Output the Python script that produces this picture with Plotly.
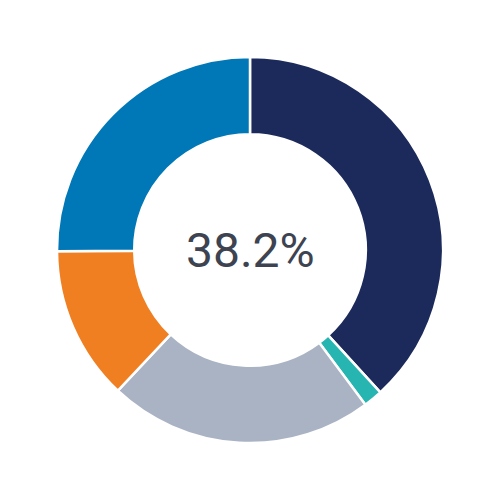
import plotly.graph_objects as go

labels = ["A", "B", "C", "D", "E"]
values = [38.2, 1.6, 22.2, 12.9, 25.1]
colors = ["#1b2a5a", "#27b5b1", "#a9b3c3", "#f07f22", "#0077b6"]
center_text = "38.2%"

fig = go.Figure(go.Pie(
    labels=labels,
    values=values,
    hole=0.6,
    sort=False,
    direction="clockwise",
    rotation=0,
    marker=dict(colors=colors, line=dict(color="white", width=2.5)),
    textinfo="none",
    hoverinfo="label+percent",
))

# page body has an 8px margin, so shrink the figure to keep the ring centred
fig.update_layout(
    width=484, height=484,
    margin=dict(l=49, r=49, t=49, b=49),
    showlegend=False,
    paper_bgcolor="white",
    annotations=[dict(text=center_text, x=0.5, y=0.5, xref="paper", yref="paper",
                      showarrow=False, font=dict(family="Roboto", size=48, color="#3d4350"))],
)

fig.write_html("out.html")
